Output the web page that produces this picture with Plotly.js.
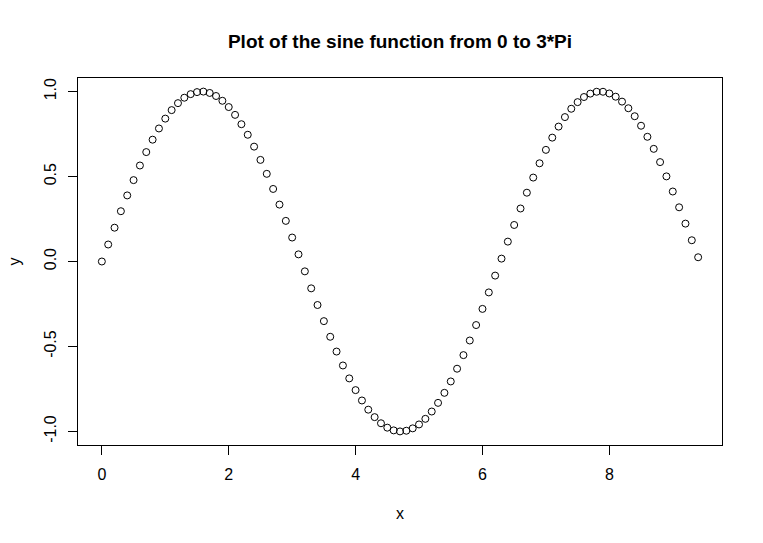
<!DOCTYPE html>
<html>
<head>
<meta charset="utf-8">
<script src="https://cdn.plot.ly/plotly-3.0.1.min.js"></script>
<style>html,body{margin:0;padding:0;background:#fff;}#chart{width:763px;height:543px;}</style>
</head>
<body>
<div id="chart"></div>
<script>
const xValues = [0.0,0.1,0.2,0.3,0.4,0.5,0.6,0.7,0.8,0.9,1.0,1.1,1.2,1.3,1.4,1.5,1.6,1.7,1.8,1.9,
  2.0,2.1,2.2,2.3,2.4,2.5,2.6,2.7,2.8,2.9,3.0,3.1,3.2,3.3,3.4,3.5,3.6,3.7,3.8,3.9,
  4.0,4.1,4.2,4.3,4.4,4.5,4.6,4.7,4.8,4.9,5.0,5.1,5.2,5.3,5.4,5.5,5.6,5.7,5.8,5.9,
  6.0,6.1,6.2,6.3,6.4,6.5,6.6,6.7,6.8,6.9,7.0,7.1,7.2,7.3,7.4,7.5,7.6,7.7,7.8,7.9,
  8.0,8.1,8.2,8.3,8.4,8.5,8.6,8.7,8.8,8.9,9.0,9.1,9.2,9.3,9.4];
const yValues = [0.000,0.100,0.199,0.296,0.389,0.479,0.565,0.644,0.717,0.783,
  0.841,0.891,0.932,0.964,0.985,0.997,1.000,0.992,0.974,0.946,
  0.909,0.863,0.808,0.746,0.676,0.598,0.516,0.427,0.335,0.239,
  0.141,0.042,-0.058,-0.158,-0.256,-0.351,-0.443,-0.530,-0.612,-0.688,
  -0.757,-0.818,-0.872,-0.916,-0.952,-0.978,-0.994,-1.000,-0.996,-0.982,
  -0.959,-0.926,-0.883,-0.832,-0.773,-0.706,-0.631,-0.551,-0.465,-0.374,
  -0.279,-0.182,-0.083,0.017,0.117,0.215,0.312,0.405,0.494,0.578,
  0.657,0.729,0.794,0.850,0.899,0.938,0.968,0.988,0.999,0.999,
  0.989,0.970,0.941,0.902,0.855,0.799,0.734,0.663,0.585,0.501,
  0.412,0.319,0.223,0.125,0.025];
const xTicks = [0, 2, 4, 6, 8];
const yTicks = [-1.0, -0.5, 0.0, 0.5, 1.0];
const yTickLabels = ["-1.0", "-0.5", "0.0", "0.5", "1.0"];
const titleText = "Plot of the sine function from 0 to 3*Pi";

const font = "Liberation Sans, Arial, sans-serif";
const trace = {
  x: xValues, y: yValues, type: "scatter", mode: "markers",
  marker: {symbol: "circle-open", size: 7, color: "#000", line: {color: "#000", width: 1}},
  hoverinfo: "skip"
};
const layout = {
  width: 763, height: 543,
  margin: {l: 78, r: 41, t: 78, b: 98, pad: 0},
  paper_bgcolor: "#fff", plot_bgcolor: "#fff",
  showlegend: false,
  font: {family: font, size: 16, color: "#000"},
  title: {text: "<b>" + titleText + "</b>", font: {family: font, size: 19, color: "#000"},
    xref: "paper", x: 0.5, xanchor: "center", yref: "container", y: 1 - 41/543, yanchor: "middle"},
  xaxis: {
    range: [-0.376, 9.776], tickmode: "array", tickvals: xTicks, ticktext: xTicks.map(String),
    ticks: "outside", ticklen: 9, tickwidth: 1, tickcolor: "#000",
    showline: true, mirror: true, linecolor: "#000", linewidth: 1,
    showgrid: false, zeroline: false, ticklabelstandoff: 6,
    tickfont: {family: font, size: 16, color: "#000"},
    title: {text: "x", font: {family: font, size: 16, color: "#000"}, standoff: 25},
    automargin: false, fixedrange: true
  },
  yaxis: {
    range: [-1.08, 1.08], tickmode: "array", tickvals: yTicks, ticktext: yTickLabels,
    ticks: "outside", ticklen: 9, tickwidth: 1, tickcolor: "#000", tickangle: -90,
    showline: true, mirror: true, linecolor: "#000", linewidth: 1,
    showgrid: false, zeroline: false, ticklabelstandoff: 6,
    tickfont: {family: font, size: 16, color: "#000"},
    title: {text: "y", font: {family: font, size: 16, color: "#000"}, standoff: 16},
    automargin: false, fixedrange: true
  }
};
Plotly.newPlot("chart", [trace], layout, {displayModeBar: false, staticPlot: true});
</script>
</body>
</html>
